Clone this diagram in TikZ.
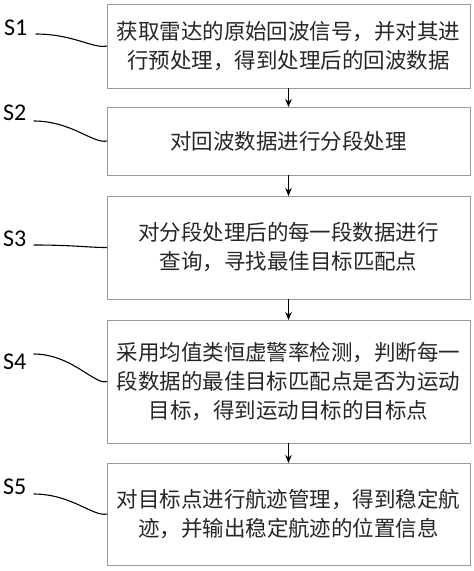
\documentclass[tikz,border=0pt]{standalone}
\usepackage{fontspec}
\setmainfont{Carlito}
\newfontfamily\cjk{Noto Sans CJK SC}
\usetikzlibrary{positioning, arrows.meta}
\definecolor{boxgray}{HTML}{9A9A9A}
\definecolor{inkgray}{HTML}{262626}
\tikzstyle{stepbox} = [
    rectangle,
    minimum width=363pt,
    inner sep=0pt,
    outer sep=0pt,
    align=center,
    draw=boxgray,
    line width=0.9pt,
    text=inkgray,
    font=\cjk\fontsize{21.5}{29}\selectfont
]
\tikzstyle{steplabel} = [
    anchor=west,
    inner sep=0pt,
    font=\fontsize{24}{28}\selectfont
]
\tikzstyle{arrow} = [line width=1.1pt,-{Stealth[length=8pt,width=6.5pt]}]
\tikzstyle{leader} = [line width=1.1pt]

\begin{document}
\begin{tikzpicture}
\useasboundingbox (0,0) rectangle (474pt,-571pt);

\node (s1box) [stepbox, minimum height=84pt] at (288.5pt,-46pt)
{获取雷达的原始回波信号，并对其进\\行预处理，得到处理后的回波数据};

\node (s2box) [stepbox, minimum height=68pt, below=19pt of s1box]
{对回波数据进行分段处理};

\node (s3box) [stepbox, minimum height=103pt, below=21pt of s2box]
{对分段处理后的每一段数据进行\\查询，寻找最佳目标匹配点};

\node (s4box) [stepbox, minimum height=123pt, below=21pt of s3box]
{采用均值类恒虚警率检测，判断每一\\段数据的最佳目标匹配点是否为运动\\目标，得到运动目标的目标点};

\node (s5box) [stepbox, minimum height=102pt, below=20pt of s4box]
{对目标点进行航迹管理，得到稳定航\\迹，并输出稳定航迹的位置信息};

% step labels
\node (s1lab) [steplabel] at (4pt,-28pt) {S1};
\node (s2lab) [steplabel] at (3pt,-113pt) {S2};
\node (s3lab) [steplabel] at (3pt,-239pt) {S3};
\node (s4lab) [steplabel] at (3pt,-362pt) {S4};
\node (s5lab) [steplabel] at (3pt,-487pt) {S5};

\draw [arrow] (s1box) -- (s2box);
\draw [arrow] (s2box) -- (s3box);
\draw [arrow] (s3box) -- (s4box);
\draw [arrow] (s4box) -- (s5box);

% leader curves
\draw [leader] ([xshift=8pt,yshift=-6pt]s1lab.east)
    .. controls +(38pt,0pt) and +(-14pt,-3pt) .. (s1box.west);
\draw [leader] ([xshift=7pt,yshift=-8pt]s2lab.east)
    .. controls +(38pt,0pt) and +(-14pt,-3pt) .. (s2box.west);
\draw [leader] ([xshift=7pt,yshift=-6pt]s3lab.east)
    .. controls +(40pt,0pt) and +(-20pt,0pt) .. (s3box.west);
\draw [leader] ([xshift=7pt,yshift=8pt]s4lab.east)
    .. controls +(38pt,0pt) and +(-12pt,-4pt) .. (s4box.west);
\draw [leader] ([xshift=7pt,yshift=-7pt]s5lab.east)
    .. controls +(38pt,0pt) and +(-14pt,-3pt) .. (s5box.west);

\end{tikzpicture}
\end{document}
